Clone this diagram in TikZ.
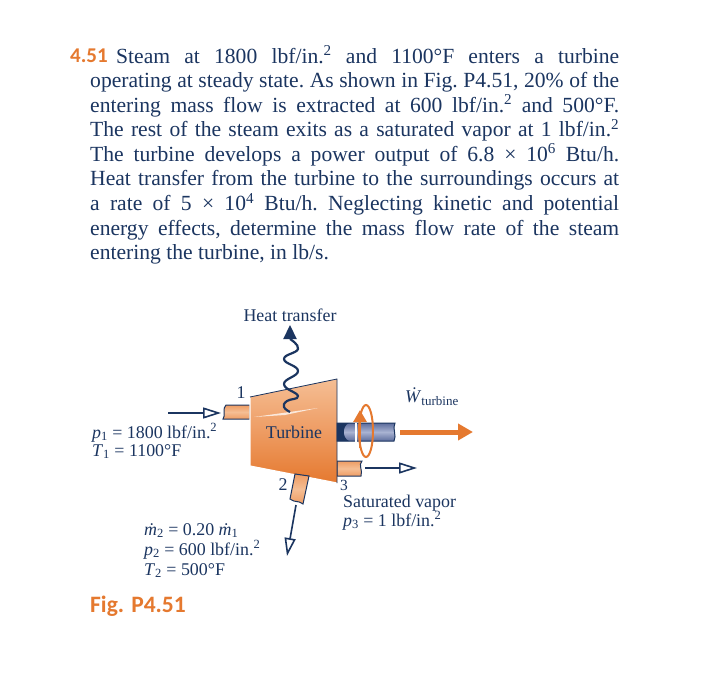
\documentclass[tikz,border=0pt]{standalone}
\usepackage{fontspec}
\setmainfont{Liberation Serif}
\newfontfamily\labelfont{Carlito}
\usetikzlibrary{arrows.meta}
\definecolor{inkblue}{HTML}{1B3560}
\definecolor{fireorange}{HTML}{E5792F}
\definecolor{paleorange}{HTML}{F5BE94}
\definecolor{midorange}{HTML}{EE9C63}
\definecolor{steelblue}{HTML}{A9B3D2}
\definecolor{steeldark}{HTML}{5C6C9C}
\tikzset{
    flow/.style={draw=inkblue, line width=1.6pt, -{Triangle[open, length=18pt, width=11pt, fill=white]}},
    label/.style={inner sep=0pt, text=inkblue, font=\fontsize{17.9}{20}\selectfont},
    pipe/.style={draw=inkblue, line width=1pt, top color=midorange, bottom color=midorange, middle color=paleorange},
}
\begin{document}
\begin{tikzpicture}[x=1pt, y=-1pt]
    \useasboundingbox[fill=white] (0,0) rectangle (721,685);
    % Problem text
    \node[anchor=base west, inner sep=0pt, text=fireorange, font=\labelfont\bfseries\fontsize{21}{24}\selectfont]
        (number) at (70,63) {4.51};
    \node[anchor=north west, inner sep=0pt, text width=529pt, align=justify, text=inkblue,
        font=\fontsize{21.6}{24.55}\selectfont\frenchspacing] (problem) at (90,45.5)
        {\hspace*{26pt}Steam at 1800 lbf/in.\textsuperscript{2} and 1100°F enters a turbine\linebreak
        operating at steady state. As shown in Fig. P4.51, 20\% of the\linebreak
        entering mass flow is extracted at 600 lbf/in.\textsuperscript{2} and 500°F.\linebreak
        The rest of the steam exits as a saturated vapor at 1 lbf/in.\textsuperscript{2}\linebreak
        The turbine develops a power output of 6.8 × 10\textsuperscript{6} Btu/h.\linebreak
        Heat transfer from the turbine to the surroundings occurs at\linebreak
        a rate of 5 × 10\textsuperscript{4} Btu/h. Neglecting kinetic and potential\linebreak
        energy effects, determine the mass flow rate of the steam\linebreak
        entering the turbine, in lb/s.\par};
    % Pipes
    \draw[pipe] (250,405) -- (226,405) .. controls (222,408) and (226,416) .. (223,419) -- (250,419) -- cycle;
    \draw[pipe] (337,461) -- (362,461) .. controls (358,465) and (363,470) .. (361,476) -- (337,476) -- cycle;
    % Turbine
    \shade[top color=paleorange, bottom color=fireorange, middle color=midorange]
        (250,397) -- (337,379) -- (337,483) -- (250,466) -- cycle;
    \draw[white, line width=1.2pt] (250,397) -- (250,466) -- (337,483);
    \draw[inkblue, line width=0.8pt] (250,397) -- (337,379) -- (337,483);
    \fill[white, opacity=0.75] (254,417) -- (318,408) -- (285,415) -- cycle;
    \draw[pipe] (295,474) -- (309,476) -- (303,504) .. controls (298,500) and (295,503) .. (290,499) -- cycle;
    % Shaft
    \draw[draw=inkblue, line width=1pt, top color=steeldark, bottom color=steeldark, middle color=steelblue]
        (337,423) -- (395,423) .. controls (392,428) and (397,436) .. (394,441) -- (337,441) -- cycle;
    \fill[inkblue] (337,423) -- (349,423) .. controls (342,426) and (342,438) .. (349,441) -- (337,441) -- cycle;
    \draw[white, line width=1.5pt] (356,422.5) -- (356,441.5);
    % Rotation
    \draw[fireorange, line width=2pt] (366,431) ellipse [x radius=7, y radius=26];
    \draw[fireorange, line width=2.8pt, -{Triangle[length=12pt, width=13pt]}] (360,448) -- (360,410);
    % Power arrow
    \coordinate (shaftend) at (400,432);
    \coordinate (powerend) at (473,432);
    \draw[fireorange, line width=5pt, -{Triangle[length=15pt, width=16pt]}] (shaftend) -- (powerend);
    % Flows
    \coordinate (inletfree) at (168,413);
    \coordinate (inletend) at (221,413);
    \coordinate (outletfree) at (365,468);
    \coordinate (outletend) at (417,468);
    \coordinate (bleedfree) at (296,505);
    \coordinate (bleedend) at (287,556);
    \draw[flow] (inletfree) -- (inletend);
    \draw[flow] (outletfree) -- (outletend);
    \draw[flow] (bleedfree) -- (bleedend);
    % Heat transfer
    \draw[inkblue, line width=2.2pt] plot[smooth, tension=0.8] coordinates
        {(290,412) (284,407) (287,401) (298,396) (284,384) (298,371) (284,359) (298,349) (290,339)};
    \coordinate (heatfree) at (290,339);
    \coordinate (heatend) at (290,325);
    \draw[inkblue, line width=2.2pt, -{Triangle[length=14pt, width=13pt]}] (heatfree) -- (heatend);
    % Labels
    \node[label] (heat) at (290,315) {Heat transfer};
    \node[label] (turbine) at (294,432) {Turbine};
    \node[label] (one) at (241,393) {1};
    \node[label] (two) at (283,485) {2};
    \node[label, font=\fontsize{15.5}{18}\selectfont] (three) at (344,485.5) {3};
    \node[label, anchor=base west] (power) at (405,402) {\textit{\.{W}}\raisebox{-3pt}{\fontsize{13}{13}\selectfont turbine}};
    \node[label, anchor=base west] (inletp) at (92,438) {\textit{p}\textsubscript{1} = 1800 lbf/in.\textsuperscript{2}};
    \node[label, anchor=base west] (inlett) at (92,456) {\textit{T}\textsubscript{1} = 1100°F};
    \node[label, anchor=base west] (vapor) at (343,507.5) {Saturated vapor};
    \node[label, anchor=base west] (vaporp) at (343,526) {\textit{p}\textsubscript{3} = 1 lbf/in.\textsuperscript{2}};
    \node[label, anchor=base west] (bleedm) at (144,535) {\textit{\.{m}}\textsubscript{2} = 0.20 \textit{\.{m}}\textsubscript{1}};
    \node[label, anchor=base west] (bleedp) at (144,555) {\textit{p}\textsubscript{2} = 600 lbf/in.\textsuperscript{2}};
    \node[label, anchor=base west] (bleedt) at (144,575) {\textit{T}\textsubscript{2} = 500°F};
    \node[anchor=base west, inner sep=0pt, text=fireorange, font=\labelfont\bfseries\fontsize{23.5}{26}\selectfont]
        (figure) at (90,612) {Fig. P4.51};
\end{tikzpicture}
\end{document}
